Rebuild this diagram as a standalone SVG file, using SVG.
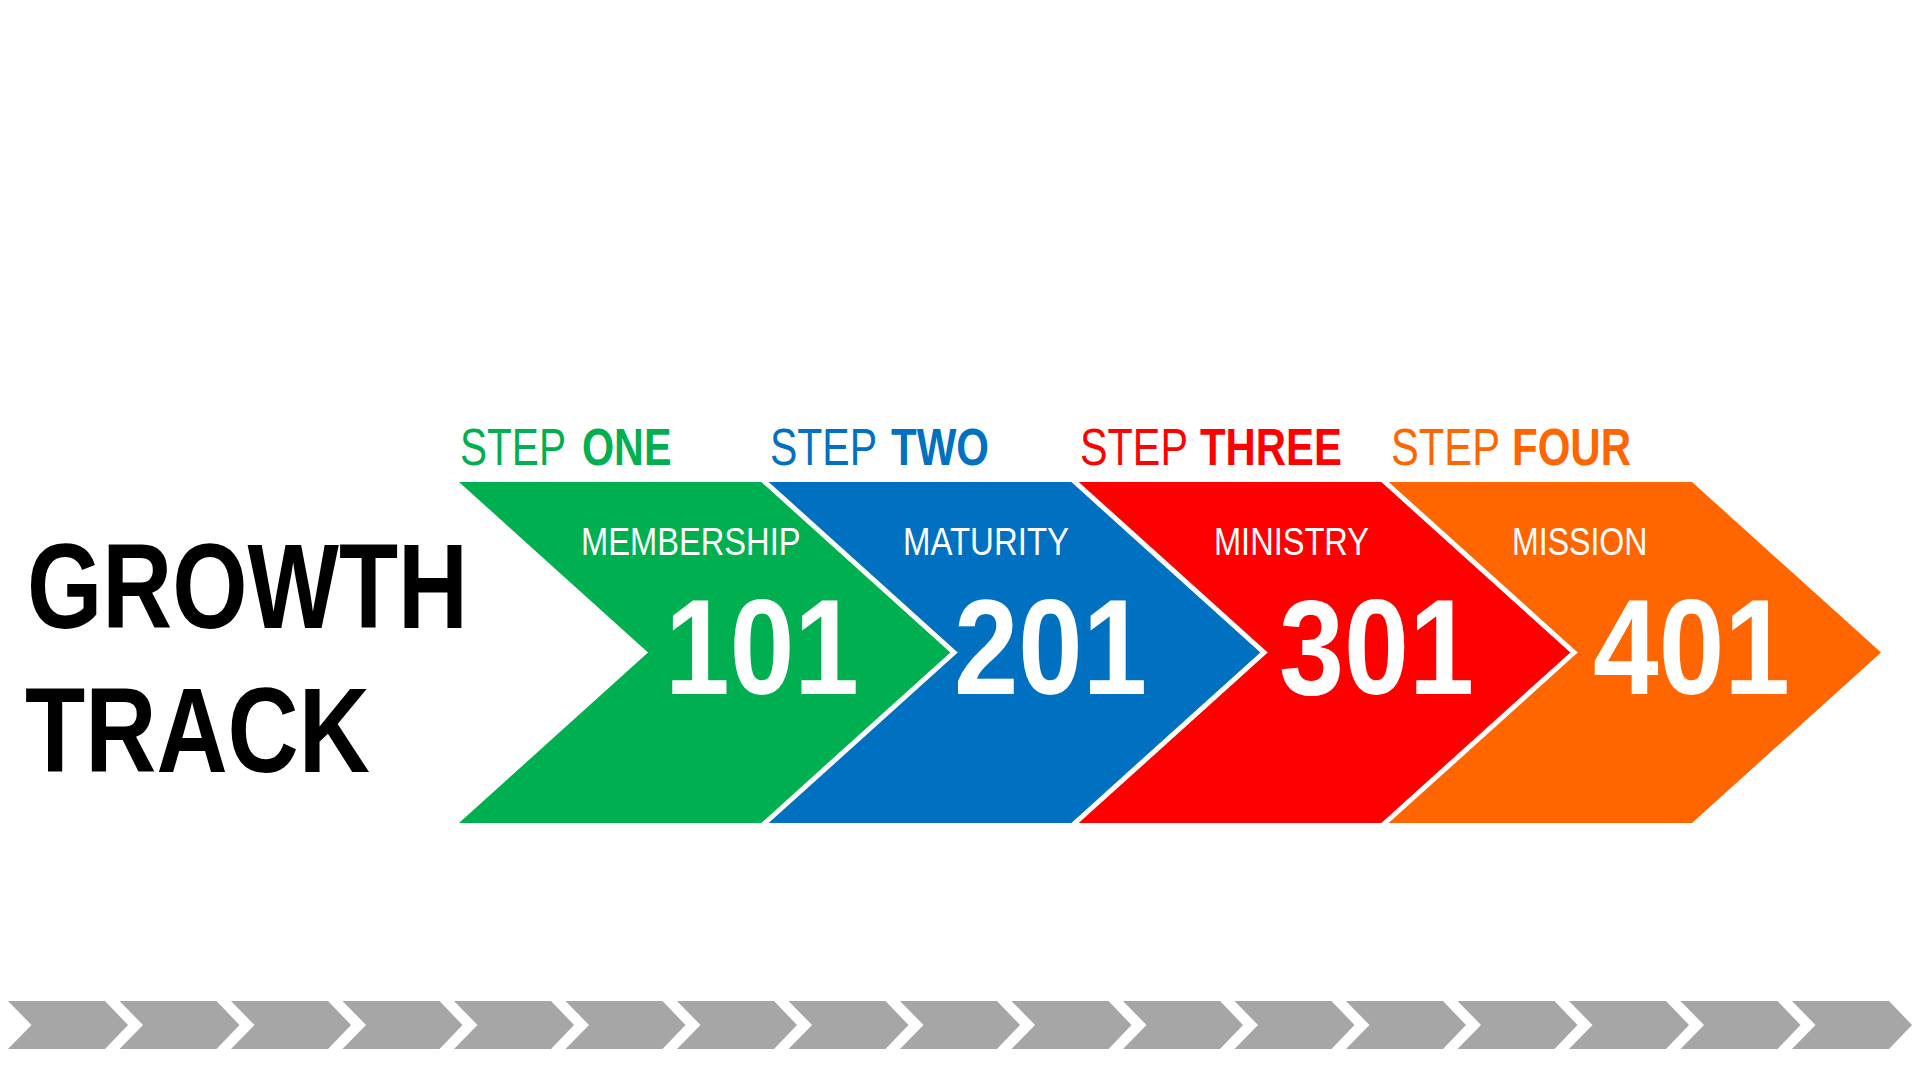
<svg xmlns="http://www.w3.org/2000/svg" width="1920" height="1080" viewBox="0 0 1920 1080">
<style>
.f{font-family:"Liberation Sans",Arial,sans-serif}
.reg{font-weight:400}
.bold{font-weight:700}
.title{font-size:120px;font-weight:700;fill:#000}
.step{font-size:41px}
.lbl{font-size:38.7px;fill:#fff;font-weight:400}
.num{font-size:136px;fill:#fff;font-weight:700}
.sep{fill:none;stroke:#fff;stroke-width:5;stroke-linejoin:miter}
.green{fill:#00B050}.blue{fill:#0070C0}.red{fill:#FF0000}.orange{fill:#FF6600}
.gray{fill:#A6A6A6}
</style>
<defs>
<path id="small" d="M0,0 L97,0 L120,24 L97,48 L0,48 L23.5,24 Z"/>
</defs>
<rect width="1920" height="1080" fill="#fff"/>
<g id="title">
<text class="f title" x="27" y="628" textLength="441" lengthAdjust="spacingAndGlyphs">GROWTH</text>
<text class="f title" x="25" y="771.5" textLength="345" lengthAdjust="spacingAndGlyphs">TRACK</text>
</g>
<g id="step1">
<path class="green" d="M459,482 L762,482 L951,652.5 L762,823 L459,823 L648,652.5 Z"/>
<g transform="matrix(1,0,0,1.244,0,-113.46)">
<text class="f step reg green" x="460" y="465" textLength="106" lengthAdjust="spacingAndGlyphs">STEP</text>
<text class="f step bold green" x="582" y="465" textLength="89.5" lengthAdjust="spacingAndGlyphs">ONE</text>
</g>
<text class="f lbl" x="581" y="554.5" textLength="219.5" lengthAdjust="spacingAndGlyphs">MEMBERSHIP</text>
<text class="f num" x="665" y="694" textLength="194" lengthAdjust="spacingAndGlyphs">101</text>
</g>
<g id="step2">
<path class="blue" d="M762,482 L1072,482 L1261,652.5 L1072,823 L762,823 L951,652.5 Z"/>
<g transform="matrix(1,0,0,1.244,0,-113.46)">
<text class="f step reg blue" x="770" y="465" textLength="107" lengthAdjust="spacingAndGlyphs">STEP</text>
<text class="f step bold blue" x="891" y="465" textLength="98" lengthAdjust="spacingAndGlyphs">TWO</text>
</g>
<text class="f lbl" x="903" y="554.5" textLength="166" lengthAdjust="spacingAndGlyphs">MATURITY</text>
<text class="f num" x="954" y="694" textLength="193" lengthAdjust="spacingAndGlyphs">201</text>
</g>
<g id="step3">
<path class="red" d="M1072,482 L1382,482 L1571,652.5 L1382,823 L1072,823 L1261,652.5 Z"/>
<g transform="matrix(1,0,0,1.244,0,-113.46)">
<text class="f step reg red" x="1080" y="465" textLength="108" lengthAdjust="spacingAndGlyphs">STEP</text>
<text class="f step bold red" x="1200" y="465" textLength="142" lengthAdjust="spacingAndGlyphs">THREE</text>
</g>
<text class="f lbl" x="1214" y="554.5" textLength="155" lengthAdjust="spacingAndGlyphs">MINISTRY</text>
<text class="f num" x="1279" y="694" textLength="195" lengthAdjust="spacingAndGlyphs">301</text>
</g>
<g id="step4">
<path class="orange" d="M1382,482 L1692,482 L1881,652.5 L1692,823 L1382,823 L1571,652.5 Z"/>
<g transform="matrix(1,0,0,1.244,0,-113.46)">
<text class="f step reg orange" x="1391" y="465" textLength="109" lengthAdjust="spacingAndGlyphs">STEP</text>
<text class="f step bold orange" x="1512" y="465" textLength="119" lengthAdjust="spacingAndGlyphs">FOUR</text>
</g>
<text class="f lbl" x="1512" y="554.5" textLength="135.5" lengthAdjust="spacingAndGlyphs">MISSION</text>
<text class="f num" x="1593" y="694" textLength="197" lengthAdjust="spacingAndGlyphs">401</text>
</g>
<g id="separators">
<polyline class="sep" points="759.5,477 954,652.5 759.5,828"/>
<polyline class="sep" points="1069.5,477 1264,652.5 1069.5,828"/>
<polyline class="sep" points="1379.5,477 1574,652.5 1379.5,828"/>
</g>
<g id="track-bar" class="gray">
<use href="#small" x="8" y="1001"/>
<use href="#small" x="119.5" y="1001"/>
<use href="#small" x="231" y="1001"/>
<use href="#small" x="342.5" y="1001"/>
<use href="#small" x="454" y="1001"/>
<use href="#small" x="565.5" y="1001"/>
<use href="#small" x="677" y="1001"/>
<use href="#small" x="788.5" y="1001"/>
<use href="#small" x="900" y="1001"/>
<use href="#small" x="1011.5" y="1001"/>
<use href="#small" x="1123" y="1001"/>
<use href="#small" x="1234.5" y="1001"/>
<use href="#small" x="1346" y="1001"/>
<use href="#small" x="1457.5" y="1001"/>
<use href="#small" x="1569" y="1001"/>
<use href="#small" x="1680.5" y="1001"/>
<use href="#small" x="1792" y="1001"/>
</g>
</svg>
